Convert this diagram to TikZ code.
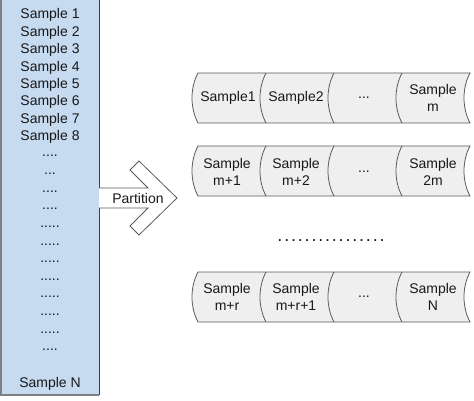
\documentclass[tikz,border=0pt]{standalone}
\usepackage{fontspec}
\setmainfont{Liberation Sans}
\definecolor{colblue}{HTML}{C6DAF0}
\definecolor{segfill}{HTML}{EFEFEF}
\definecolor{segstroke}{HTML}{5A5A5A}
\newcommand{\dfour}{.\kern0pt.\kern0pt.\kern0pt.}
\newcommand{\dthree}{.\kern0pt.\kern0pt.}
\newcommand{\dfive}{.\kern0pt.\kern0pt.\kern0pt.\kern0pt.}
\newcommand{\sdot}{.\kern1.8pt}
\begin{document}
\begin{tikzpicture}[x=1pt,y=-1pt,
  lbl/.style={font=\fontsize{14}{17}\selectfont, inner sep=0pt, anchor=base, text=black!90},
  seglbl/.style={font=\fontsize{14}{17}\selectfont, align=center, inner sep=0pt, text=black!90},
  segline/.style={draw=segstroke, line width=0.8pt},
]
\useasboundingbox (0,0) rectangle (474,401);
% left column
\fill[colblue] (1,-2) rectangle (99,395);
\draw[gray, line width=1.2pt] (1,-2) -- (1,395) -- (99,395);
\draw[black!75, line width=1pt] (99,-2) -- (99,395);
\foreach \k in {1,...,8} {
  \node[lbl] (s\k) at (50,{19+17.4*(\k-1)}) {Sample \k};
}
\node[lbl] (d0) at (50,157.0) {\dfour};
\node[lbl] (d1) at (50,174.6) {\dthree};
\node[lbl] (d2) at (50,192.2) {\dfour};
\node[lbl] (d3) at (50,209.8) {\dfour};
\node[lbl] (d4) at (50,227.4) {\dfive};
\node[lbl] (d5) at (50,245.0) {\dfive};
\node[lbl] (d6) at (50,262.6) {\dfive};
\node[lbl] (d7) at (50,280.2) {\dfive};
\node[lbl] (d8) at (50,297.8) {\dfive};
\node[lbl] (d9) at (50,315.4) {\dfive};
\node[lbl] (d10) at (50,333.0) {\dfive};
\node[lbl] (d11) at (50,350.6) {\dfour};
\node[lbl] (sN) at (50,387) {Sample N};
% arrow
\draw[segstroke, fill=white, line width=0.8pt] (99,188) -- (148,188) -- (130,170) -- (139,161) -- (177,198) -- (139,235) -- (130,226) -- (148,208) -- (99,208);
\node[font=\fontsize{14}{17}\selectfont, inner sep=0pt, text=black!90] (part) at (138,198) {Partition};
% rows
\foreach \r/\yt in {1/73,2/146,3/272} {
  \pgfmathsetmacro{\yb}{\yt+50}
  \filldraw[fill=segfill, segline] (198,\yt) -- (470,\yt) .. controls (462,\yt+15) and (462,\yb-15) .. (470,\yb) -- (198,\yb) .. controls (190,\yb-15) and (190,\yt+15) .. (198,\yt) -- cycle;
  \foreach \x in {260,328,396} {
    \draw[segline] (\x+6,\yt) .. controls (\x-2,\yt+15) and (\x-2,\yb-15) .. (\x+6,\yb);
  }
}
% row 1 labels
\node[seglbl] (a1) at (228,98) {Sample1};
\node[seglbl] (a2) at (296,98) {Sample2};
\node[seglbl] (a3) at (364,98) {\dthree};
\node[seglbl] (a4) at (433,98) {Sample\\m};
% row 2 labels
\node[seglbl] (b1) at (227,171.5) {Sample\\m+1};
\node[seglbl] (b2) at (296,171.5) {Sample\\m+2};
\node[seglbl] (b3) at (364,171.5) {\dthree};
\node[seglbl] (b4) at (433,171.5) {Sample\\2m};
% middle dots
\node[font=\fontsize{18}{18}\selectfont, inner sep=0pt, anchor=base, text=black!90] (mid) at (331,241) {\sdot\sdot\sdot\sdot\sdot\sdot\sdot\sdot\sdot\sdot\sdot\sdot\sdot\sdot\sdot.};
% row 3 labels
\node[seglbl] (c1) at (227,297) {Sample\\m+r};
\node[seglbl] (c2) at (296,297) {Sample\\m+r+1};
\node[seglbl] (c3) at (364,297) {\dthree};
\node[seglbl] (c4) at (433,297) {Sample\\N};
\end{tikzpicture}
\end{document}
